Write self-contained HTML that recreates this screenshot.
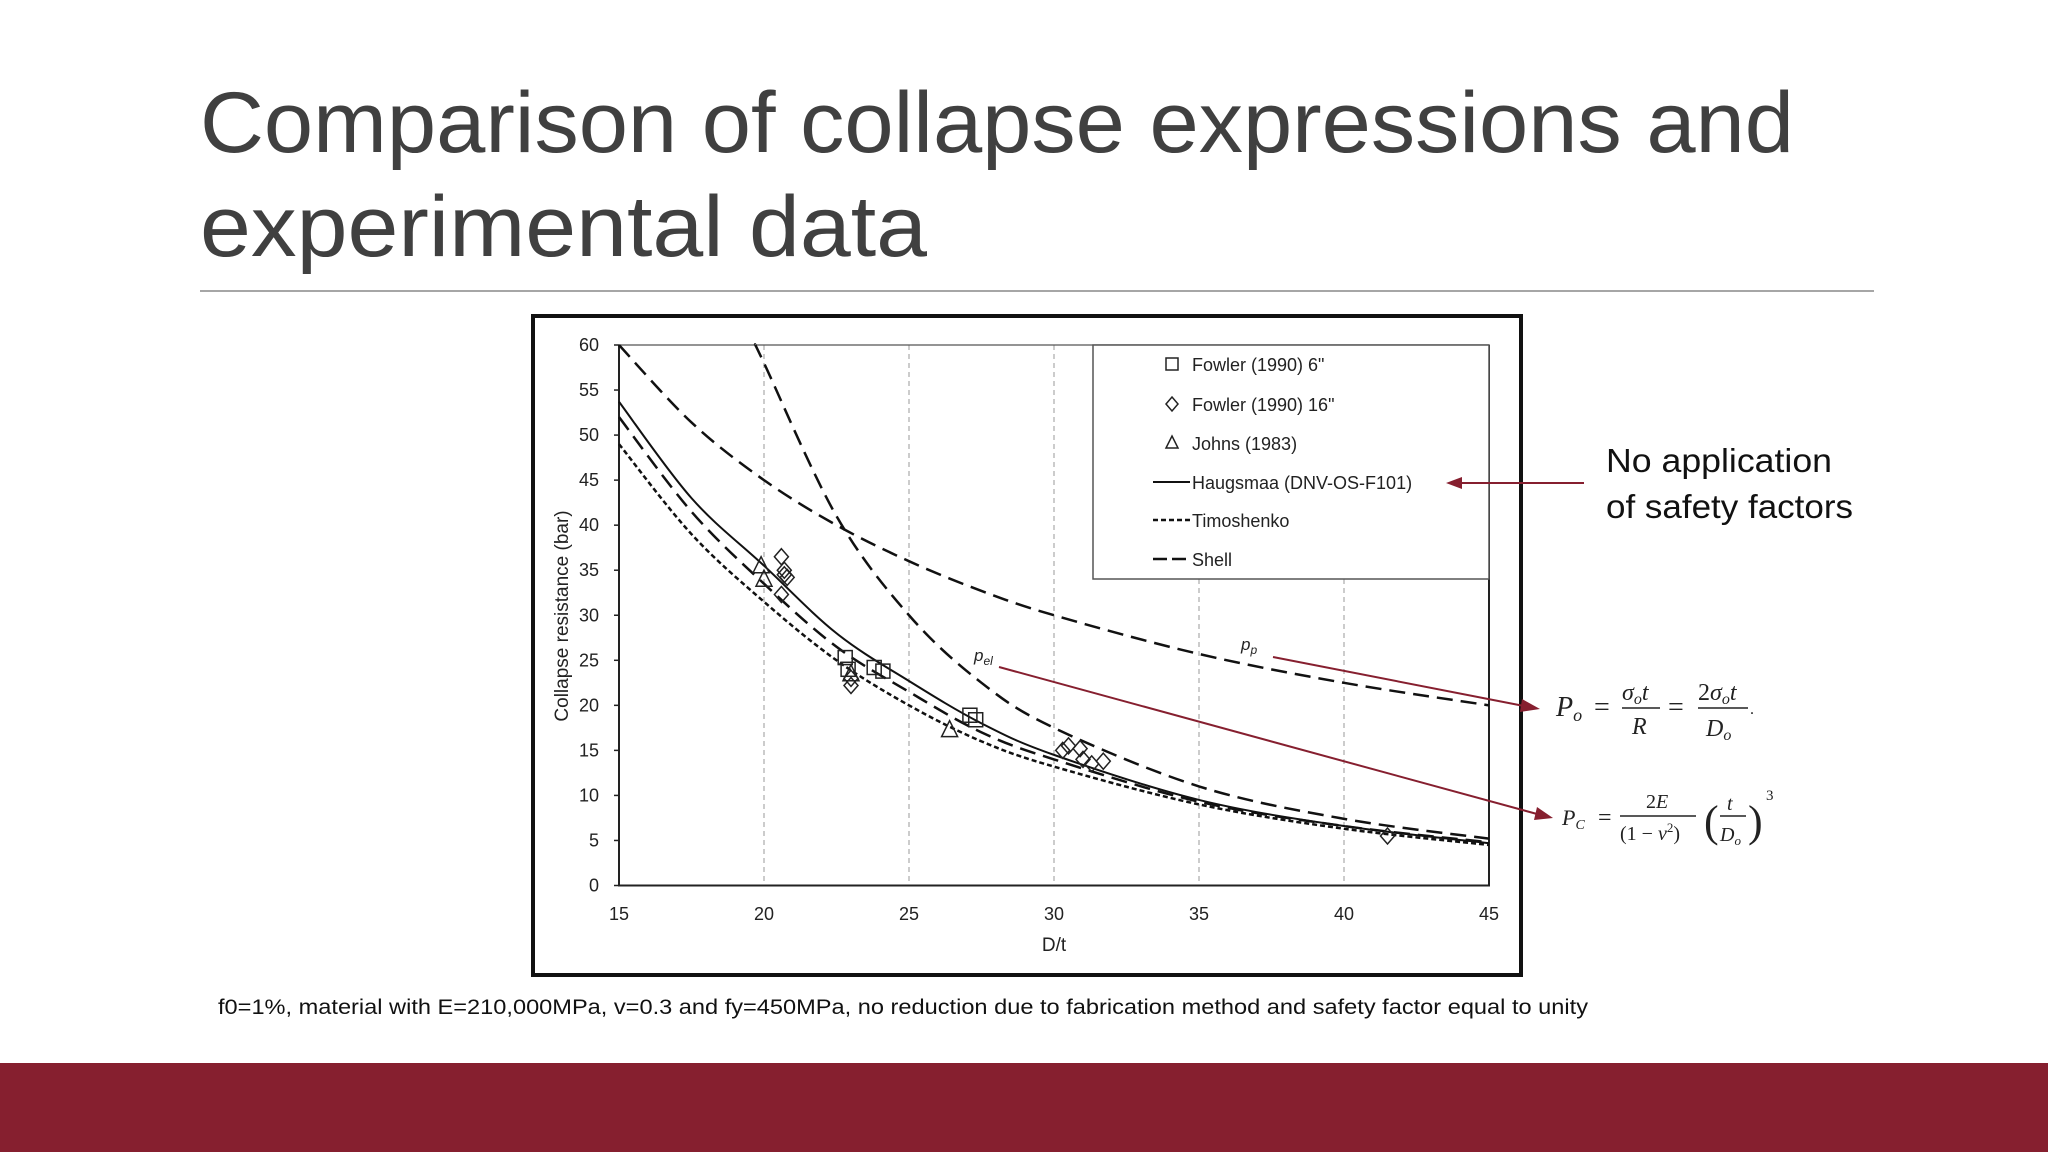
<!DOCTYPE html>
<html><head><meta charset="utf-8"><style>
html,body{margin:0;padding:0;background:#fff;}
svg{display:block;font-family:"Liberation Sans",sans-serif;}
</style></head><body>
<svg id="s" width="2048" height="1152" viewBox="0 0 2048 1152" xmlns="http://www.w3.org/2000/svg">
<text x="200" y="152" font-size="86" fill="#404040" textLength="1594" lengthAdjust="spacingAndGlyphs">Comparison of collapse expressions and</text>
<text x="200" y="256" font-size="86" fill="#404040" textLength="727" lengthAdjust="spacingAndGlyphs">experimental data</text>
<line x1="200" y1="291" x2="1874" y2="291" stroke="#a6a6a6" stroke-width="2"/>
<rect x="533" y="316" width="988" height="659" fill="#fff" stroke="#111" stroke-width="4"/>
<g id="chart"></g>
<g>
<rect x="1093" y="345" width="396" height="234" fill="#fff" stroke="#555" stroke-width="1.5"/>
<rect x="1166" y="358" width="12" height="12" fill="none" stroke="#222" stroke-width="1.5"/>
<text x="1192" y="371" font-size="18" fill="#222">Fowler (1990) 6"</text>
<path d="M1172 397 L1178 404 L1172 411 L1166 404 Z" fill="none" stroke="#222" stroke-width="1.5"/>
<text x="1192" y="411" font-size="18" fill="#222">Fowler (1990) 16"</text>
<path d="M1172 436 L1178 448 L1166 448 Z" fill="none" stroke="#222" stroke-width="1.5"/>
<text x="1192" y="450" font-size="18" fill="#222">Johns (1983)</text>
<line x1="1153" y1="482" x2="1190" y2="482" stroke="#111" stroke-width="2"/>
<text x="1192" y="489" font-size="18" fill="#222">Haugsmaa  (DNV-OS-F101)</text>
<line x1="1153" y1="520" x2="1190" y2="520" stroke="#111" stroke-width="2.5" stroke-dasharray="5,3"/>
<text x="1192" y="527" font-size="18" fill="#222">Timoshenko</text>
<line x1="1153" y1="559" x2="1190" y2="559" stroke="#111" stroke-width="2.5" stroke-dasharray="14,5"/>
<text x="1192" y="566" font-size="18" fill="#222">Shell</text>
</g>
<g stroke="#861f2f" stroke-width="2" fill="#861f2f">
<line x1="1584" y1="483" x2="1460" y2="483"/>
<path d="M1446 483 L1462 477 L1462 489 Z" stroke="none"/>
<line x1="1273" y1="657" x2="1524" y2="706"/>
<path d="M1540 709 L1522 699 L1520 712 Z" stroke="none"/>
<line x1="999" y1="667" x2="1537" y2="814"/>
<path d="M1553 818 L1537 807 L1534 820 Z" stroke="none"/>
</g>
<text x="1241" y="650" font-size="17" font-style="italic" fill="#222">p<tspan font-size="12" dy="4">p</tspan></text>
<text x="974" y="661" font-size="17" font-style="italic" fill="#222">p<tspan font-size="12" dy="4">el</tspan></text>
<text x="1606" y="472" font-size="33" fill="#111" textLength="226" lengthAdjust="spacingAndGlyphs">No application</text>
<text x="1606" y="518" font-size="33" fill="#111" textLength="247" lengthAdjust="spacingAndGlyphs">of safety factors</text>
<g font-family="Liberation Serif, serif" fill="#222">
<text x="1556" y="716" font-size="28" font-style="italic">P<tspan font-size="18" dy="5">o</tspan></text>
<text x="1594" y="716" font-size="28">=</text>
<text x="1622" y="700" font-size="24" font-style="italic">σ<tspan font-size="16" dy="4">o</tspan><tspan dy="-4">t</tspan></text>
<line x1="1622" y1="708" x2="1660" y2="708" stroke="#222" stroke-width="1.5"/>
<text x="1632" y="734" font-size="24" font-style="italic">R</text>
<text x="1668" y="716" font-size="28">=</text>
<text x="1698" y="700" font-size="24">2<tspan font-style="italic">σ</tspan><tspan font-size="16" dy="4" font-style="italic">o</tspan><tspan dy="-4" font-style="italic">t</tspan></text>
<line x1="1698" y1="708" x2="1748" y2="708" stroke="#222" stroke-width="1.5"/>
<text x="1706" y="736" font-size="24" font-style="italic">D<tspan font-size="16" dy="4">o</tspan></text>
<text x="1750" y="714" font-size="16">.</text>
</g>
<g font-family="Liberation Serif, serif" fill="#222">
<text x="1562" y="825" font-size="22" font-style="italic">P<tspan font-size="14" dy="4">C</tspan></text>
<text x="1598" y="825" font-size="24">=</text>
<text x="1646" y="808" font-size="20">2<tspan font-style="italic">E</tspan></text>
<line x1="1620" y1="816" x2="1696" y2="816" stroke="#222" stroke-width="1.5"/>
<text x="1620" y="840" font-size="20">(1 − <tspan font-style="italic">v</tspan><tspan font-size="13" dy="-8">2</tspan><tspan dy="8">)</tspan></text>
<text x="1704" y="836" font-size="44">(</text>
<text x="1727" y="810" font-size="20" font-style="italic">t</text>
<line x1="1720" y1="816" x2="1746" y2="816" stroke="#222" stroke-width="1.5"/>
<text x="1720" y="841" font-size="20" font-style="italic">D<tspan font-size="13" dy="4">o</tspan></text>
<text x="1748" y="836" font-size="44">)</text>
<text x="1766" y="800" font-size="15">3</text>
</g>
<text x="218" y="1014" font-size="21.5" fill="#111" textLength="1370" lengthAdjust="spacingAndGlyphs">f0=1%, material with E=210,000MPa, v=0.3 and fy=450MPa, no reduction due to fabrication method and safety factor equal to unity</text>
<rect x="0" y="1063" width="2048" height="89" fill="#861f2f"/>
</svg>
<script>
const xTicks=[15,20,25,30,35,40,45];
const yTicks=[0,5,10,15,20,25,30,35,40,45,50,55,60];
const curveX=[15,17.5,20,22.5,25,27.5,30,35,40,45];
const haugsmaa=[53.7,43,35.5,28,22.7,18,14.5,9.5,6.6,4.7];
const timoshenko=[49,39,31.5,25,20,16,13.2,9,6.3,4.5];
const shell=[52,41.5,33.5,26.5,21.5,17,14,9.3,6.6,4.8];
const pelX=[19.7,20,22.5,25,27.5,30,35,40,45];
const pel=[60,58,41,30,22.5,17.5,11,7.4,5.2];
const pp=[60,51.4,45,40,36,32.7,30,25.7,22.5,20];
const squaresX=[22.8,22.9,23.8,24.1,27.1,27.3];
const squaresY=[25.3,24,24.2,23.8,18.9,18.4];
const diamondsX=[20.6,20.7,20.7,20.6,20.8,23,23,30.3,30.5,30.9,31,31.3,31.7,41.5];
const diamondsY=[36.5,34.5,35,32.3,34.2,22.2,23,15,15.5,15.2,14,13.5,13.8,5.5];
const trianglesX=[19.9,20,23,26.4];
const trianglesY=[35.5,34,23.5,17.3];

const X0=619,X1=1489,Y0=885.5,Y1=345;
const sx=v=>X0+(v-15)/(45-15)*(X1-X0);
const sy=v=>Y0-(v-0)/(60-0)*(Y0-Y1);
const NS='http://www.w3.org/2000/svg';
const g=document.getElementById('chart');
function mk(tag,attrs){const e=document.createElementNS(NS,tag);for(const k in attrs)e.setAttribute(k,attrs[k]);g.appendChild(e);return e;}

xTicks.forEach(t=>{
  if(t>15&&t<45){const l=mk('line',{x1:sx(t),x2:sx(t),y1:Y1,y2:Y0,stroke:'#aaa','stroke-width':1.2,'stroke-dasharray':'5,4'});
  
  }
  const tx=mk('text',{x:sx(t),y:920,'font-size':18,'text-anchor':'middle',fill:'#222'});tx.textContent=t;
  
  
});
yTicks.forEach(t=>{
  const tx=mk('text',{x:599,y:sy(t)+6,'font-size':18,'text-anchor':'end',fill:'#222'});tx.textContent=t;
  
  
  const tk=mk('line',{x1:X0-5,x2:X0,y1:sy(t),y2:sy(t),stroke:'#222','stroke-width':1.5});
  
  
});
const ax=mk('path',{d:`M${X0} ${Y1} L${X0} ${Y0} L${X1} ${Y0} L${X1} ${Y1}`,fill:'none',stroke:'#222','stroke-width':2});


const plotTop=mk('line',{x1:X0,x2:X1,y1:Y1,y2:Y1,stroke:'#555','stroke-width':1.2});


const xt=mk('text',{x:1054,y:951,'font-size':19,'text-anchor':'middle',fill:'#222'});xt.textContent='D/t';


const yt=mk('text',{x:0,y:0,'font-size':19,'text-anchor':'middle',fill:'#222',transform:'translate(568,616) rotate(-90)'});yt.textContent='Collapse resistance (bar)';



function smooth(xs,ys){
  const p=xs.map((x,i)=>[sx(x),sy(ys[i])]);
  let d=`M${p[0][0]} ${p[0][1]}`;
  for(let i=0;i<p.length-1;i++){
    const a=p[i-1]||p[i],b=p[i],c=p[i+1],e=p[i+2]||c;
    d+=` C${b[0]+(c[0]-a[0])/6} ${b[1]+(c[1]-a[1])/6} ${c[0]-(e[0]-b[0])/6} ${c[1]-(e[1]-b[1])/6} ${c[0]} ${c[1]}`;
  }
  return d;
}
function curve(xs,ys,dash,w,name){
  const e=mk('path',{d:smooth(xs,ys),fill:'none',stroke:'#111','stroke-width':w});
  if(dash)e.setAttribute('stroke-dasharray',dash);
  
  
}
curve(curveX,pp,'16,8',2.5,'pp-curve');
curve(pelX,pel,'16,8',2.5,'pel-curve');
curve(curveX,timoshenko,'5,3',2.5,'timoshenko-curve');
curve(curveX,shell,'16,8',2.5,'shell-curve');
curve(curveX,haugsmaa,null,2,'haugsmaa-curve');

squaresX.forEach((x,i)=>{
  const e=mk('rect',{x:sx(x)-7,y:sy(squaresY[i])-7,width:14,height:14,fill:'none',stroke:'#222','stroke-width':1.5});
  
  
});
diamondsX.forEach((x,i)=>{
  const cx=sx(x),cy=sy(diamondsY[i]);
  const e=mk('path',{d:`M${cx} ${cy-8} L${cx+7} ${cy} L${cx} ${cy+8} L${cx-7} ${cy} Z`,fill:'none',stroke:'#222','stroke-width':1.5});
  
  
});
trianglesX.forEach((x,i)=>{
  const cx=sx(x),cy=sy(trianglesY[i]);
  const e=mk('path',{d:`M${cx} ${cy-9} L${cx+8} ${cy+7} L${cx-8} ${cy+7} Z`,fill:'none',stroke:'#222','stroke-width':1.5});
  
  
});
</script>
</body></html>
